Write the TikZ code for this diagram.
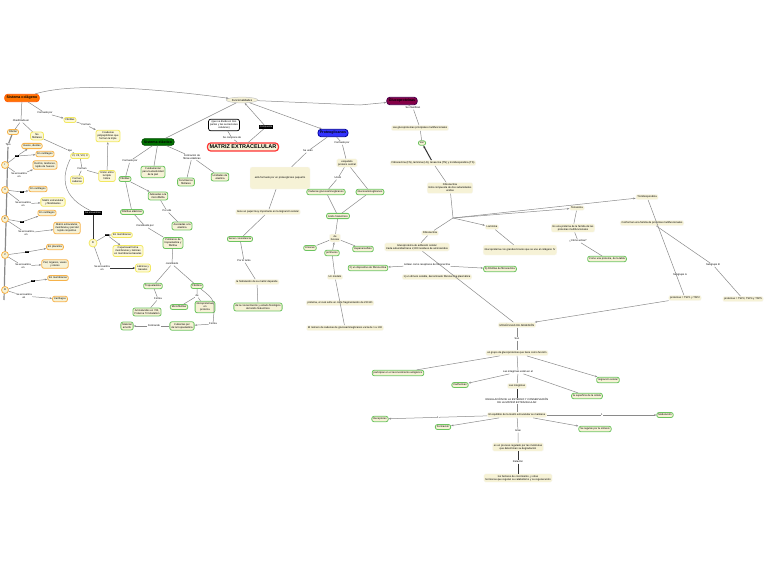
\documentclass[tikz,border=0pt]{standalone}
\usepackage{fontspec}
\setmainfont{Liberation Sans}
\usetikzlibrary{shapes.geometric,arrows.meta}
\definecolor{cream}{HTML}{F6F2D6}
\definecolor{gborder}{HTML}{6CC460}
\definecolor{yborder}{HTML}{F2E860}
\definecolor{yfill}{HTML}{FCF8D8}
\definecolor{oborder}{HTML}{F6B24A}
\definecolor{lgrey}{HTML}{8A8A8A}
\tikzset{
 base/.style={rounded corners=2pt,font=\fontsize{2.6}{3}\selectfont,align=center,inner sep=1.5pt},
 cb/.style={base,fill=cream,draw=cream!80!black!10},
 gb/.style={base,fill=cream,draw=gborder,line width=0.8pt},
 yb/.style={base,fill=yfill,draw=yborder,line width=0.8pt},
 ob/.style={base,fill=cream,draw=oborder,line width=0.8pt},
 lb/.style={font=\fontsize{2.6}{3}\selectfont,align=center,fill=white,inner sep=0.5pt},
 bk/.style={font=\fontsize{2.4}{3}\selectfont,fill=black,text=white,inner sep=0.7pt},
 circ/.style={circle,draw=oborder,fill=cream,line width=0.8pt,font=\fontsize{2.6}{3}\selectfont,inner sep=0.8pt,minimum size=7pt},
 ycirc/.style={circle,draw=yborder,fill=yfill,line width=0.8pt,font=\fontsize{2.6}{3}\selectfont,inner sep=0.8pt,minimum size=8pt},
 big/.style={rounded corners=3pt,font=\fontsize{3.6}{4}\selectfont\bfseries,inner sep=2pt,line width=0.8pt},
 ln/.style={draw=lgrey,line width=0.5pt},
 ar/.style={ln,-{Stealth[length=2.5pt]}},
 th/.style={draw=black!80,line width=1pt},
}
\begin{document}
\begin{tikzpicture}[x=1pt,y=-1pt]
\useasboundingbox (0,0) rectangle (768,578);
% ---- top level
\node[ellipse,fill=cream,draw=lgrey!50,line width=0.5pt,font=\fontsize{2.8}{3}\selectfont,inner sep=1pt] (fun) at (242,100) {Funcionalidades};
\node[big,fill=orange!90!red,draw=orange!70!red,text=black] (sis) at (22,98) {Sistema colágeno};
\node[big,fill=violet!70!red!80!black,draw=violet!60!black,text=black] (glu) at (402,101) {Glucoproteínas};
\node[big,fill=blue!80,draw=blue!60!black,text=black] (pro) at (333,133) {Proteoglicanos};
\node[big,fill=green!45!black,draw=green!30!black,text=black] (sfi) at (158,142) {Sistema elástico};
\node[big,fill=cream,draw=red!80,line width=1.2pt,font=\fontsize{5.5}{6}\selectfont\bfseries] (mat) at (243,147) {MATRIZ EXTRACELULAR};
\node[base,fill=white,draw=black,line width=0.7pt] (div) at (224,125) {(que se divide en tres\\partes y las secreciones\\celulares)};
\node[bk] (comp) at (266,127) {Compuesta};
\node[lb] (scd) at (232,138) {Se compone de};
\draw[ln] (mat) -- (scd) -- (div);
\draw[ar] (mat) -- (comp) -- (fun);
\draw[ar] (sis) .. controls (80,80) and (180,92) .. (fun);
\draw[ar] (fun) -- (360,105) -- (glu);
\draw[ar] (fun) -- (pro);
\draw[ln] (fun) -- (sfi);
% ---- left: colagen
\node[lb] (cla) at (21,121) {Clasificada en};
\node[lb] (fpo) at (45,113) {Formado por};
\node[ob] (fibp) at (13,132) {Fibrilar};
\node[yb] (fib) at (70,120) {Fibrillas};
\node[lb] (fmd) at (86,125) {Forman};
\node[yb] (col3) at (108,136) {3 cadenas\\polipeptídicas que\\forman la triple};
\node[yb] (nof) at (37,136) {No\\fibrilares};
\node[lb] (tip) at (70,151) {tipo};
\node[yb] (vi) at (80,156) {VI, VII, VIII, X};
\node[lb] (for2) at (82,169) {Forman};
\node[yb] (fcad) at (77,180) {Forman\\cadenas};
\node[yb] (uni) at (107,176) {Unión entre\\la triple\\hélice};
\node[gb] (fibr) at (125,179) {Fibrillas};
\draw[ln] (sis) -- (cla) -- (fibp);
\draw[ar] (sis) -- (fpo) -- (fib);
\draw[ar] (fib) -- (fmd) -- (col3);
\draw[ln] (cla) -- (nof) -- (tip) -- (vi);
\draw[ln] (vi) -- (for2) -- (fcad);
\draw[ln] (for2) -- (uni);
\draw[ar] (uni) -- (col3);
\draw[ln] (vi.south west) .. controls (50,200) and (95,210) .. (93,213);
% vertical spine
\node[lb] (tpo) at (8,145) {Tipo};
\draw[draw=lgrey,line width=1.2pt] (fibp) -- (tpo) -- (4,300);
\node[circ] (c1) at (5,165) {I};
\node[circ] (c2) at (5,190) {II};
\node[circ] (c3) at (5,219) {III};
\node[circ] (c5) at (5,255) {V};
\node[circ] (c11) at (5,290) {XI};
% I
\node[bk] (e1) at (17,156) {en};
\node[ob] (o1) at (32,146) {Hueso, dientes};
\node[ob] (o2) at (45,154) {En cartílagos};
\node[ob] (o3) at (45,165) {Dermis, tendones,\\tejido de huesos};
\node[lb] (s1) at (19,175) {Se encuentra\\en};
\draw[ln] (c1) -- (e1); \draw[ar] (e1) -- (o1); \draw[ar] (e1) -- (o2);
\draw[ln] (c1) -- (s1); \draw[ar] (s1) -- (o3);
% II
\node[bk] (e2) at (22,192) {en};
\node[ob] (o4) at (38,189) {En cartílagos};
\node[yb] (o5) at (53,202) {Matriz extracelular\\y fibroblastos};
\node[lb] (s2) at (23,204) {Se encuentra\\en};
\draw[ln] (c2) -- (e2); \draw[ar] (e2) -- (o4);
\draw[ln] (c2) -- (s2); \draw[ar] (s2) -- (o5);
% III
\node[bk] (e3) at (22,222) {en};
\node[ob] (o6) at (47,213) {En cartílagos};
\node[ob] (o7) at (67,228) {Matriz extracelular,\\membrana y piel del\\tejido conjuntivo};
\node[lb] (s3) at (26,233) {Se encuentra\\en};
\draw[ln] (c3) -- (e3); \draw[ar] (e3) -- (o6);
\draw[ln] (c3) -- (s3); \draw[ar] (s3) -- (o7);
% V
\node[bk] (e5) at (27,252) {en};
\node[ob] (o8) at (55,247) {En placenta};
\node[ob] (o9) at (55,264) {Piel, órganos, vasos\\y úteros};
\node[lb] (s5) at (23,266) {Se encuentra\\en};
\draw[ln] (c5) -- (e5); \draw[ar] (e5) -- (o8);
\draw[ln] (c5) -- (s5); \draw[ar] (s5) -- (o9);
% XI
\node[bk] (e11) at (33,281) {en};
\node[ob] (o10) at (58,278) {En membranas};
\node[ob] (o11) at (60,299) {Cartílagos};
\node[lb] (s11) at (24,296) {Se encuentra\\en};
\draw[ln] (c11) -- (e11); \draw[ar] (e11) -- (o10);
\draw[ln] (c11) -- (s11); \draw[ar] (s11) -- (o11);
% IV
\node[bk] (sen) at (93,213) {Se encuentran};
\node[ycirc] (c4) at (93,243) {IV};
\node[bk] (e4) at (107,235) {en};
\node[yb] (y1) at (122,235) {En membranas};
\node[yb] (y2) at (128,251) {Capa basal forma\\membranas y láminas\\en membranas basales};
\node[lb] (s4) at (102,268) {Se encuentra\\en};
\node[yb] (y3) at (143,268) {Láminas y\\basales};
\draw[th] (sen) -- (c4);
\draw[ln] (c4) -- (e4); \draw[ar] (e4) -- (y1);
\draw[ar] (e4) -- (y2);
\draw[ln] (c4) -- (s4); \draw[-{Stealth[length=2.5pt]},th] (s4) -- (y3);
% ---- elastic system
\node[lb] (fpr) at (130,161) {Formado por};
\node[gb] (f3) at (153,172) {Fundamental\\para la elasticidad\\de la piel};
\node[lb] (ffe) at (192,157) {Formación de\\fibras elásticas};
\node[gb] (fel) at (186,182) {Fenómenos\\fibrilares};
\node[gb] (ufe) at (220,177) {Unidades de\\elastina};
\node[gb] (ado) at (158,196) {Adosadas a la\\microfibrilla};
\node[gb] (rfi) at (132,212) {Fibrillas elásticas};
\node[lb] (pel) at (167,211) {Por ello};
\node[gb] (asc) at (182,226) {Asociadas a la\\elastina};
\node[lb] (cst) at (145,226) {Constituido por};
\node[gb] (pol) at (173,243) {Polímeros de\\tropoelastina y\\fibrilina};
\node[lb] (cns) at (172,264) {constituido};
\node[gb] (tro) at (153,286) {Tropoelastina};
\node[gb] (fbl) at (197,286) {Fibrilina};
\node[lb] (fm1) at (158,299) {Forma};
\node[lb] (de1) at (197,296) {de};
\node[gb] (ami) at (147,312) {Aminoácidos en 700,\\Proteína 70 kilodalton};
\node[gb] (mic) at (179,307) {Microfibrillas};
\node[gb] (gli) at (205,307) {Glicoproteínas\\en\\proteína};
\node[gb] (mat2) at (127,326) {Material\\amorfo};
\node[lb] (fmn) at (154,326) {Formando};
\node[gb] (cub) at (182,326) {Cubiertas por\\de la tropoelastina};
\node[lb] (fm2) at (213,324) {Forma};
\draw[ln] (sfi) -- (fpr) -- (fibr);
\draw[ln] (sfi) -- (f3);
\draw[ln] (sfi) -- (ffe) -- (fel);
\draw[ln] (ffe) -- (ufe);
\draw[ln] (fibr) -- (rfi);
\draw[ar] (fibr) -- (ado);
\draw[ln] (ado) -- (pel) -- (asc);
\draw[ln] (rfi) -- (cst) -- (pol);
\draw[ln] (pol) -- (cns) -- (tro);
\draw[ln] (cns) -- (fbl);
\draw[ln] (tro) -- (fm1) -- (ami);
\draw[ln] (fbl) -- (de1) -- (mic);
\draw[ln] (de1) -- (gli);
\draw[ln] (fbl) .. controls (215,300) .. (fm2);
\draw[ar] (fm2) -- (cub);
\draw[ar] (cub) -- (fmn) -- (mat2);
% ---- proteoglicanos
\node[lb] (sun) at (308,151) {Se unen};
\node[lb] (fpo2) at (342,143) {Formado por};
\node[cb,minimum width=60pt,minimum height=22pt] (pqp) at (280,178) {está formado por un proteoglicano pequeño};
\node[cb] (esq) at (347,163) {esqueleto\\proteico central};
\node[lb] (uni2) at (338,178) {Unión};
\node[gb] (cgl) at (326,192) {Cadenas glucosaminoglicanos};
\node[gb] (gag) at (370,192) {Glucosaminoglicanos};
\node[cb] (pap) at (268,212) {tiene un papel muy importante en la migración celular};
\node[gb] (ahi) at (338,216) {Ácido hialurónico};
\node[cb] (hex) at (335,238) {de\\hexosa};
\node[gb] (con) at (310,248) {Uniones};
\node[gb] (pol2) at (332,253) {polímeros};
\node[gb] (hep) at (363,249) {Heparansulfato};
\node[gb] (cns2) at (240,239) {tienen consistencia};
\node[lb] (plt) at (244,261) {Por lo tanto};
\node[cb] (hid) at (257,282) {la hidratación de su matriz depende};
\node[gb] (ela) at (258,307) {de la concentración y estado fisiológico\\del ácido hialurónico};
\node[gb] (dis) at (368,268) {2) un dispositivo de fibronectina};
\node[cb] (mod) at (335,277) {Un modelo};
\node[cb] (cor) at (340,303) {proteína, el cual sufre un corte fragmentación de 230 kD};
\node[cb] (num) at (345,328) {El número de cadenas de glucosaminoglicanos varía de 1 a 100};
\draw[ln] (pro) -- (sun) -- (pqp);
\draw[ln] (pro) -- (fpo2) -- (esq);
\draw[ln] (esq) -- (uni2) -- (cgl);
\draw[ln] (esq) -- (gag);
\draw[ln] (pqp) -- (pap);
\draw[ln] (pap) -- (cns2) -- (plt) -- (hid);
\draw[ln] (hid) -- (ela);
\draw[ln] (cgl) -- (ahi); \draw[ln] (gag) -- (ahi);
\draw[ln] (ahi) -- (hex);
\draw[ln] (hex) -- (con); \draw[ln] (hex) -- (hep);
\draw[ar] (pol2) -- (hex);
\draw[ln] (pol2) -- (mod) -- (num);
% ---- glucoproteinas
\node[lb] (scl) at (413,108) {Se clasifican};
\node[cb] (gpm) at (420,128) {Las glucoproteínas principales multifuncionales};
\node[gb] (son) at (422,143) {son};
\node[cb] (lis) at (433,163) {Fibronectina (FN), laminina (LN), tenascina (TN) y trombospondina (TS)};
\node[cb] (fnb) at (450,188) {Fibronectina\\Está compuesta de dos subunidades\\unidas};
\coordinate (jn) at (453,218);
\node[cb] (fn2) at (430,233) {Fibronectina};
\node[cb] (fn3) at (417,247) {Glucoproteína de adhesión celular\\Cada subunidad tiene 2,300 residuos de aminoácidos};
\node[cb] (lam) at (492,227) {Laminina};
\node[cb,minimum height=10pt] (lgr) at (520,250) {Glucoproteína con grandes brazos que se une al colágeno IV};
\node[lb] (acr) at (427,265) {Actúan como receptores de fibronectina};
\node[gb] (ffn) at (500,269) {b) Fibrillas de fibronectina};
\node[cb] (dim) at (437,277) {1) un dímero soluble, denominado fibronectina plasmática};
\node[cb] (ten) at (577,208) {Tenascina};
\node[cb] (tro2) at (647,197) {Trombospondina};
\node[cb] (tfa) at (573,228) {Es una proteína de la familia de las\\proteínas multifuncionales};
\node[lb] (coa) at (578,241) {¿Cómo actúa?};
\node[gb] (cup) at (607,259) {Como una proteína, de la tabla};
\node[cb] (cfp) at (652,223) {Conforman una familia de proteínas multifuncionales};
\node[lb] (sga) at (680,275) {Subgrupo A};
\node[lb] (sgb) at (713,265) {Subgrupo B};
\node[cb] (tsa) at (685,298) {proteínas = TSP1 y TSP2};
\node[cb] (tsb) at (743,299) {proteínas = TSP3, TSP4 y TSP5};
\draw[ln] (glu) -- (scl) -- (gpm) -- (son);
\draw[-{Stealth[length=2.5pt]},th] (lis) -- (son);
\draw[ln] (lis) -- (fnb) -- (jn);
\draw[ln] (jn) -- (fn2); \draw[ar] (jn) -- (lam);
\draw[ar] (jn) -- (ten); \draw[ar] (jn) -- (tro2);
\draw[ln] (fn2) -- (fn3); \draw[ln] (lam) -- (lgr);
\draw[ar] (acr) -- (dis); \draw[ar] (acr) -- (ffn);
\draw[ln] (ten) -- (tfa) -- (coa) -- (cup);
\draw[ln] (tro2) -- (tsa);
\draw[ln] (cfp) -- (sgb) -- (tsb);
% ---- moleculas de adhesion
\node[cb] (mol) at (517,325) {MOLÉCULAS DE ADHESIÓN};
\node[lb] (sn2) at (517,339) {Son};
\node[cb] (grp) at (517,353) {un grupo de glucoproteínas que tiene como función};
\node[gb] (par) at (398,373) {participan en el reconocimiento antigénico};
\node[lb] (lie) at (518,372) {Las integrinas están en el};
\node[gb] (mig) at (608,380) {migración celular};
\node[gb] (cad) at (460,385) {Cadherinas};
\node[cb] (int) at (517,386) {Las integrinas};
\node[gb] (sup) at (587,396) {la superficie de la célula};
\node[lb] (reg) at (517,401) {REGULACIÓN DE LA ESTEREO Y CONSERVACIÓN\\DE LA MATRIZ EXTRACELULAR};
\node[cb] (equ) at (517,415) {El equilibrio de la matriz extracelular se mantiene};
\node[gb] (rec) at (380,419) {Receptores};
\node[gb] (frm) at (443,427) {Formación};
\node[gb] (srs) at (595,429) {Se regulan por la síntesis};
\node[gb] (mdl) at (665,415) {Modulación};
\node[lb] (gr) at (518,431) {Gran};
\node[cb] (prc) at (518,447) {es un proceso regulado por las moléculas\\que determinan su degradación};
\node[lb] (rel) at (518,462) {Relación};
\node[cb] (fac) at (518,478) {los factores de crecimiento, y otras\\hormonas que regulan su catabolismo y su regeneración};
\draw[ln] (fn3) -- (mol);
\draw[ar] (tsa) -- (mol);
\draw[ln] (mol) -- (sn2) -- (grp);
\draw[ln] (grp) -- (par);
\draw[ar] (grp) -- (mig);
\draw[ln] (grp) -- (lie);
\draw[ar] (lie) -- (cad);
\draw[ln] (lie) -- (int);
\draw[ln] (lie) -- (sup);
\draw[th] (int) -- (reg);
\draw[ln] (reg) -- (equ);
\draw[ar] (equ) -- node[lb,pos=0.5]{1} (rec);
\draw[ar] (equ) -- (frm);
\draw[ar] (equ) -- (srs);
\draw[ar] (equ) -- node[lb,pos=0.5]{1} (mdl);
\draw[ln] (equ) -- (gr) -- (prc);
\draw[th] (prc) -- (rel) -- (fac);
\end{tikzpicture}
\end{document}
